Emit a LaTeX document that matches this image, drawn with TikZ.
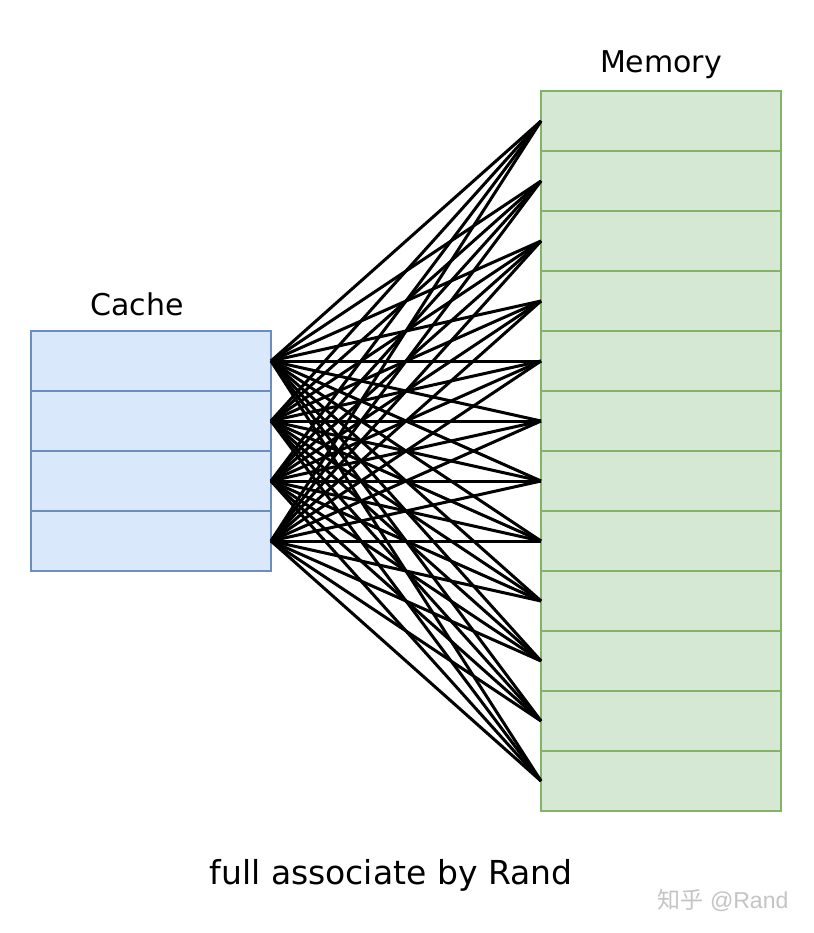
\documentclass[tikz,border=0pt]{standalone}
\usepackage{fontspec}
\setmainfont{DejaVu Sans}
\newfontfamily\cjk{Noto Sans CJK SC}
\newfontfamily\wmfont{Liberation Sans}
\definecolor{cfill}{HTML}{DAE8FC}
\definecolor{cline}{HTML}{6C8EBF}
\definecolor{mfill}{HTML}{D5E8D4}
\definecolor{mline}{HTML}{82B366}
\definecolor{wm}{HTML}{C4C4C4}
\begin{document}
\begin{tikzpicture}[x=1pt,y=-1pt,
  ccell/.style={draw=cline,fill=cfill,line width=2.8pt,minimum width=240pt,minimum height=60pt,inner sep=0pt,outer sep=0pt},
  mcell/.style={draw=mline,fill=mfill,line width=2.8pt,minimum width=240pt,minimum height=60pt,inner sep=0pt,outer sep=0pt},
  wire/.style={line width=3pt,black},
  lbl/.style={font=\fontsize{30}{34}\selectfont,inner sep=0pt}]
\useasboundingbox (0,0) rectangle (813,933);
\fill[white] (0,0) rectangle (813,933);
\foreach \i in {1,...,4} {
  \node[ccell] (c\i) at (151,{331+60*\i-30}) {};
}
\foreach \j in {1,...,12} {
  \node[mcell] (m\j) at (661,{91+60*\j-30}) {};
}
\foreach \i in {1,...,4} {
  \foreach \j in {1,...,12} {
    \draw[wire] (c\i.east) -- (m\j.west);
  }
}
\node[lbl] (mem) at (661,65) {Memory};
\node[lbl] (cache) at (137,304) {Cache};
\node[lbl,font=\fontsize{33}{37}\selectfont] (cap) at (391,875) {full associate by Rand};
\node[font=\fontsize{23}{27}\selectfont\wmfont,text=wm,inner sep=0pt] (wmk) at (723,900) {{\cjk 知乎} @Rand};
\end{tikzpicture}
\end{document}
